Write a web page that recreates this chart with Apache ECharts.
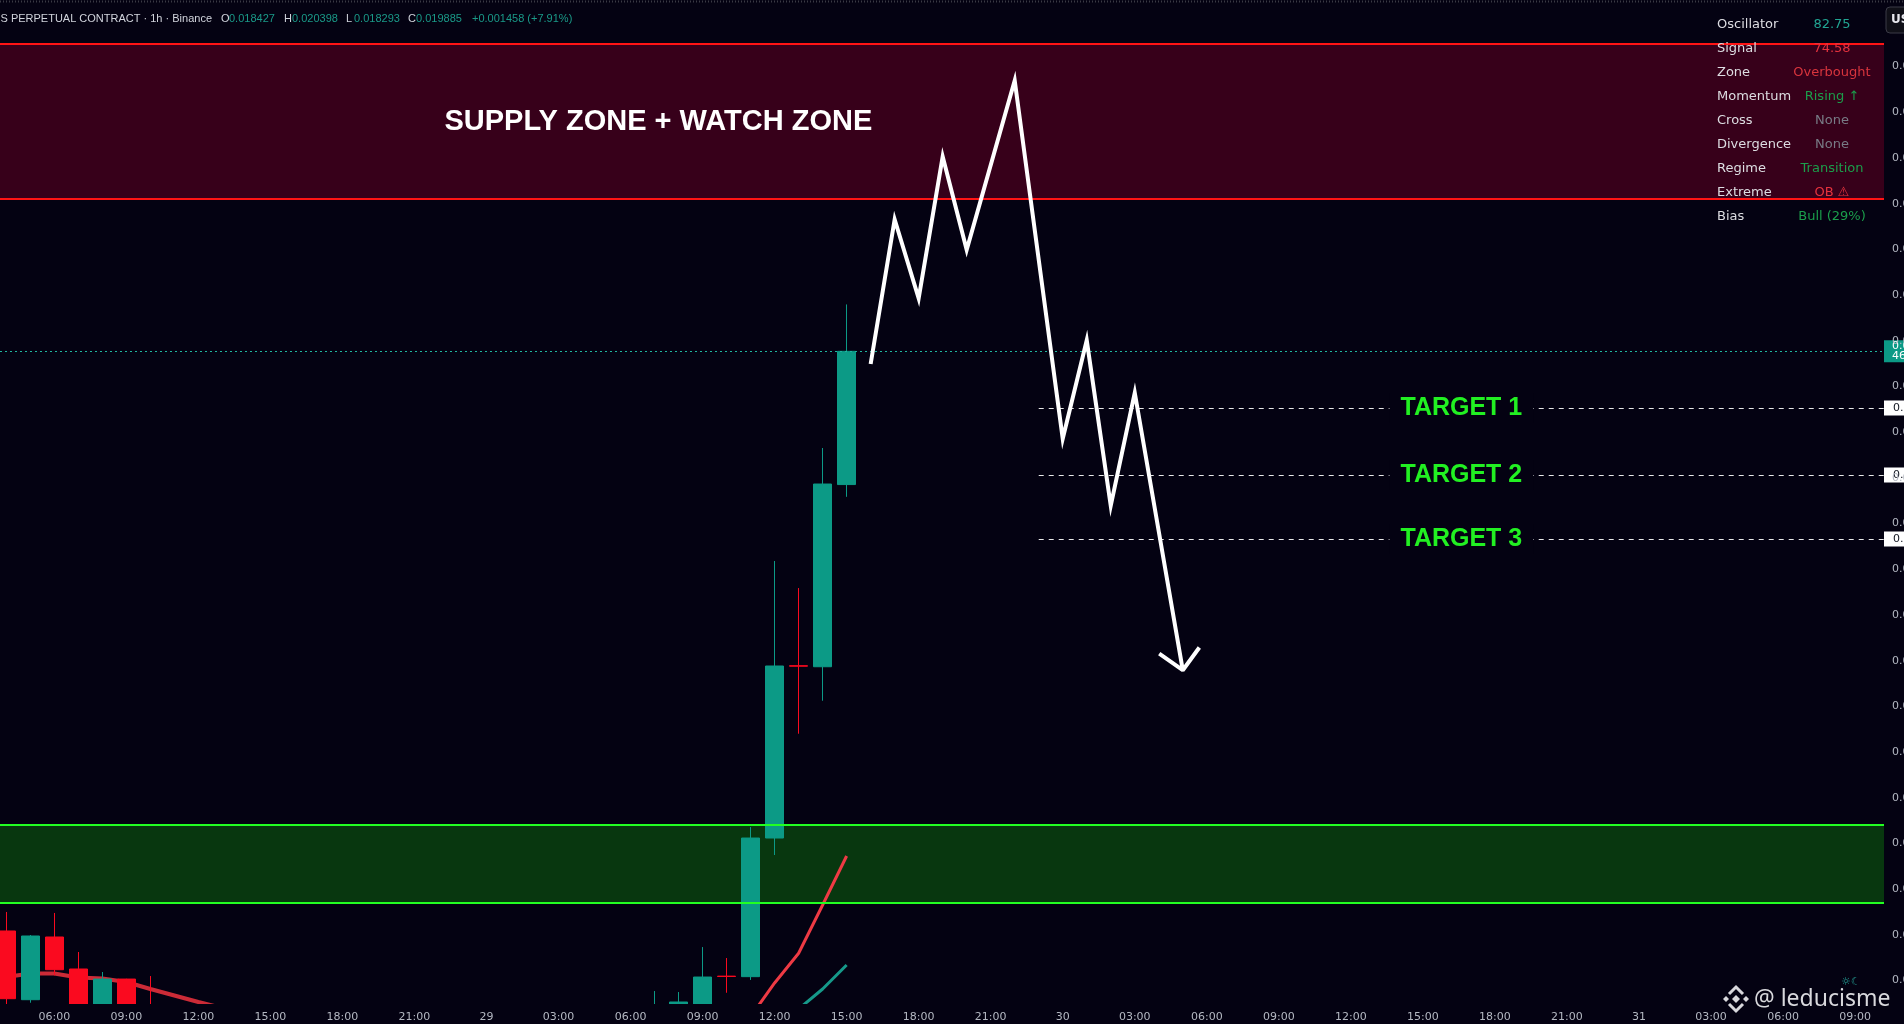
<!DOCTYPE html>
<html><head><meta charset="utf-8">
<script src="https://cdn.jsdelivr.net/npm/echarts@6/dist/echarts.min.js"></script>
<style>html,body{margin:0;padding:0;background:#040212;overflow:hidden}#c{width:1904px;height:1024px}</style>
</head><body><div id="c"></div>
<script>
// ---- data (hours counted from day 28 00:00, 1h candles) ----
const candleHours = [4, 5, 6, 7, 8, 9, 10, 31, 32, 33, 34, 35, 36, 37, 38, 39];
const candleOpen  = [0.013543, 0.012791, 0.013477, 0.013127, 0.012700, 0.013017, 0.012700, 0.012620, 0.012720, 0.012720, 0.013049, 0.013043, 0.014560, 0.016445, 0.016434, 0.018427];
const candleClose = [0.012802, 0.013488, 0.013119, 0.012680, 0.013017, 0.012650, 0.012600, 0.012700, 0.012766, 0.013039, 0.013045, 0.014560, 0.016442, 0.016440, 0.018433, 0.019885];
const candleLow   = [0.012650, 0.012758, 0.013058, 0.012620, 0.012600, 0.012600, 0.012400, 0.012500, 0.012650, 0.012700, 0.012867, 0.013007, 0.014374, 0.015701, 0.016062, 0.018293];
const candleHigh  = [0.013751, 0.013499, 0.013740, 0.013313, 0.013094, 0.013020, 0.013050, 0.012886, 0.012875, 0.013367, 0.013247, 0.014680, 0.017591, 0.017295, 0.018827, 0.020398];

const maRedLeftHours  = [4, 5, 6, 7, 8, 9, 10, 11, 12, 13];
const maRedLeft       = [0.013039, 0.013078, 0.013078, 0.013034, 0.013023, 0.012985, 0.012908, 0.012837, 0.012766, 0.012700];
const maRedRightHours = [35, 36, 37, 38, 39];
const maRedRight      = [0.012606, 0.012974, 0.013299, 0.013827, 0.014363];
const maTealHours     = [37, 38, 39];
const maTeal          = [0.012689, 0.012908, 0.013171];

const projHours  = [40, 41, 42, 43, 44, 46, 48, 49, 50, 51, 53];
const projPrices = [0.019746, 0.021328, 0.020466, 0.022016, 0.020996, 0.022848, 0.018929, 0.020005, 0.018196, 0.019432, 0.016396];
const arrowHours  = [52.02, 53, 53.69];
const arrowPrices = [0.016577, 0.016396, 0.016645];

const targetNames  = ['TARGET 1', 'TARGET 2', 'TARGET 3'];
const targetPrices = [0.019265, 0.018532, 0.017831];
const targetStartHour = 47;

const supplyZone = [0.021551, 0.023247];
const demandZone = [0.013852, 0.014702];
const supplyLabel = { hour: 31.16, price: 0.022397, text: 'SUPPLY ZONE + WATCH ZONE' };
const currentPrice = 0.019885;
const countdown = '46:12';

const yTickValues = [0.0130, 0.0135, 0.0140, 0.0145, 0.0150, 0.0155, 0.0160, 0.0165, 0.0170, 0.0175, 0.0180, 0.0185, 0.0190, 0.0195, 0.0200, 0.0205, 0.0210, 0.0215, 0.0220, 0.0225, 0.0230];
const xTickHours  = [6, 9, 12, 15, 18, 21, 24, 27, 30, 33, 36, 39, 42, 45, 48, 51, 54, 57, 60, 63, 66, 69, 72, 75, 78, 81];
const xTickLabels = ['06:00', '09:00', '12:00', '15:00', '18:00', '21:00', '29', '03:00', '06:00', '09:00', '12:00', '15:00', '18:00', '21:00', '30', '03:00', '06:00', '09:00', '12:00', '15:00', '18:00', '21:00', '31', '03:00', '06:00', '09:00'];

const tableLabels = ['Oscillator', 'Signal', 'Zone', 'Momentum', 'Cross', 'Divergence', 'Regime', 'Extreme', 'Bias'];
const tableValues = ['82.75', '74.58', 'Overbought', 'Rising \u2191', 'None', 'None', 'Transition', 'OB \u26A0', 'Bull (29%)'];
const tableColors = ['#22a593', '#e5323e', '#d8343d', '#1b9e4b', '#787b86', '#787b86', '#1b9e4b', '#e5323e', '#1b9e4b'];

const xMin = 3.7385, xMax = 82.205;
const yMin = 0.012744, yMax = 0.023674;

// ---- styling ----
const BG = '#040212';
const UP = '#0c9a86', DOWN = '#fa0a1f';
const GREEN_TXT = '#22f022';
const AXIS_TXT = '#b4b8c2';

const chart = echarts.init(document.getElementById('c'), null, { renderer: 'canvas' });

const candleData = candleHours.map((h, i) => [h, candleOpen[i], candleClose[i], candleLow[i], candleHigh[i]]);
const pairs = (xs, ys) => xs.map((x, i) => [x, ys[i]]);
const last = candleData.length - 1;
// an invisible anchor so marker series have data
const anchor = [[xMin, currentPrice], [xMax, currentPrice]];

const graphics = [];
// bottom strip under the time axis (hides candle overflow)
graphics.push({ type: 'rect', z: 120, shape: { x: 0, y: 1004, width: 1904, height: 20 }, style: { fill: BG } });
// top dotted border
graphics.push({ type: 'line', z: 100, shape: { x1: 0, y1: 1.5, x2: 1904, y2: 1.5 }, style: { stroke: '#3a3a44', lineWidth: 2, lineDash: [1, 2] } });
// header
const hdrFont = '11px "Liberation Sans", Arial, sans-serif';
graphics.push({ type: 'text', z: 100, x: 212, y: 19, style: { text: 'US PERPETUAL CONTRACT \u00B7 1h \u00B7 Binance', fill: '#d1d4dc', font: hdrFont, align: 'right', verticalAlign: 'middle' } });
const ohlcLabels = ['O', 'H', 'L', 'C'];
const ohlcVals = [candleOpen[last], candleHigh[last], candleLow[last], candleClose[last]];
const ohlcX = [221, 284, 346, 408];
ohlcLabels.forEach((l, i) => {
  graphics.push({ type: 'text', z: 100, x: ohlcX[i], y: 19, style: { text: l, fill: '#d1d4dc', font: hdrFont, verticalAlign: 'middle' } });
  graphics.push({ type: 'text', z: 100, x: ohlcX[i] + 8, y: 19, style: { text: ohlcVals[i].toFixed(6), fill: '#1a9a88', font: hdrFont, verticalAlign: 'middle' } });
});
const chg = candleClose[last] - candleOpen[last];
graphics.push({ type: 'text', z: 100, x: 472, y: 19, style: { text: '+' + chg.toFixed(6) + ' (+' + (chg / candleOpen[last] * 100).toFixed(2) + '%)', fill: '#1a9a88', font: hdrFont, verticalAlign: 'middle' } });
// info table
tableLabels.forEach((l, i) => {
  const y = 25 + i * 24;
  graphics.push({ type: 'text', z: 100, x: 1717, y: y, style: { text: l, fill: '#dddde2', font: '13px "DejaVu Sans", sans-serif', verticalAlign: 'middle' } });
  graphics.push({ type: 'text', z: 100, x: 1832, y: y, style: { text: tableValues[i], fill: tableColors[i], font: '13px "DejaVu Sans", sans-serif', align: 'center', verticalAlign: 'middle' } });
});
// currency button
graphics.push({ type: 'rect', z: 100, shape: { x: 1886, y: 7, width: 40, height: 26, r: 4 }, style: { fill: '#101018', stroke: '#3a3a46', lineWidth: 1 } });
graphics.push({ type: 'text', z: 101, x: 1891, y: 20, style: { text: 'USDT', fill: '#e8e8ee', font: 'bold 12px "DejaVu Sans", sans-serif', verticalAlign: 'middle' } });
// watermark
const cx = 1736, cy = 999, wm = '#d8d8dc';
const dia = (x, y, r) => ({ type: 'polygon', z: 130, shape: { points: [[x, y - r], [x + r, y], [x, y + r], [x - r, y]] }, style: { fill: wm } });
graphics.push(dia(cx, cy, 4), dia(cx - 10, cy, 3), dia(cx + 10, cy, 3));
graphics.push({ type: 'polyline', z: 130, shape: { points: [[cx - 7, cy - 5], [cx, cy - 12], [cx + 7, cy - 5]] }, style: { stroke: wm, lineWidth: 3, fill: null } });
graphics.push({ type: 'polyline', z: 130, shape: { points: [[cx - 7, cy + 5], [cx, cy + 12], [cx + 7, cy + 5]] }, style: { stroke: wm, lineWidth: 3, fill: null } });
graphics.push({ type: 'text', z: 130, x: 1754, y: 999, style: { text: '@ leducisme', fill: wm, font: '23px "Noto Sans", sans-serif', verticalAlign: 'middle' } });
graphics.push({ type: 'text', z: 130, x: 1841, y: 982, style: { text: '\u263C\u263E', fill: '#26a69a', font: '11px "DejaVu Sans", sans-serif', verticalAlign: 'middle' } });

const hidden = { showSymbol: false, symbol: 'none', lineStyle: { opacity: 0, width: 0 }, silent: true };

const option = {
  backgroundColor: BG,
  animation: false,
  grid: { left: 0, right: 20, top: 5, bottom: 20, outerBoundsMode: 'none', containLabel: false },
  xAxis: {
    type: 'value', min: xMin, max: xMax, z: 150,
    axisLine: { show: false }, axisTick: { show: false }, splitLine: { show: false },
    axisLabel: {
      customValues: xTickHours, margin: 8, color: AXIS_TXT, fontSize: 11, fontFamily: 'DejaVu Sans',
      formatter: v => xTickLabels[xTickHours.indexOf(Math.round(v))]
    }
  },
  yAxis: {
    type: 'value', position: 'right', min: yMin, max: yMax, scale: true, z: 150,
    axisLine: { show: false }, axisTick: { show: false }, splitLine: { show: false },
    axisLabel: { customValues: yTickValues, margin: 8, color: AXIS_TXT, fontSize: 11, fontFamily: 'DejaVu Sans', formatter: v => v.toFixed(6) }
  },
  graphic: { elements: graphics },
  series: [
    Object.assign({
      name: 'zones', type: 'line', z: 1, data: anchor,
      markArea: {
        silent: true,
        data: [
          [{ coord: [xMin, supplyZone[1]], itemStyle: { color: '#37001a' } }, { coord: [xMax, supplyZone[0]] }],
          [{ coord: [xMin, demandZone[1]], itemStyle: { color: '#08370f' } }, { coord: [xMax, demandZone[0]] }]
        ]
      },
      markLine: {
        silent: true, symbol: 'none', label: { show: false },
        data: [
          [{ coord: [xMin, supplyZone[0]], lineStyle: { color: '#ff1414', width: 2, type: 'solid' } }, { coord: [xMax, supplyZone[0]] }],
          [{ coord: [xMin, supplyZone[1]], lineStyle: { color: '#ff1414', width: 2, type: 'solid' } }, { coord: [xMax, supplyZone[1]] }],
          [{ coord: [xMin, demandZone[0]], lineStyle: { color: '#22ff22', width: 2, type: 'solid' } }, { coord: [xMax, demandZone[0]] }],
          [{ coord: [xMin, demandZone[1]], lineStyle: { color: '#22ff22', width: 2, type: 'solid' } }, { coord: [xMax, demandZone[1]] }]
        ]
      }
    }, hidden),
    { name: 'maRedL', type: 'line', z: 2, data: pairs(maRedLeftHours, maRedLeft), showSymbol: false, lineStyle: { color: 'rgba(240,50,62,0.85)', width: 4 } },
    { name: 'maRedR', type: 'line', z: 2, data: pairs(maRedRightHours, maRedRight), showSymbol: false, lineStyle: { color: '#ee3a44', width: 3 } },
    { name: 'maTeal', type: 'line', z: 2, data: pairs(maTealHours, maTeal), showSymbol: false, lineStyle: { color: '#16998a', width: 3 } },
    {
      name: 'price', type: 'candlestick', z: 3, data: candleData, barWidth: 19,
      encode: { x: 0, y: [1, 2, 3, 4] },
      itemStyle: { color: UP, color0: DOWN, borderColor: UP, borderColor0: DOWN, borderWidth: 1 }
    },
    Object.assign({
      name: 'annotations', type: 'line', z: 4, data: anchor,
      markLine: {
        silent: true, symbol: 'none',
        data: [
          [
            { coord: [xMin, currentPrice], lineStyle: { color: '#1fb5a0', width: 1, type: [2, 3] },
              label: { show: true, position: 'end', distance: 0, formatter: currentPrice.toFixed(6) + '\n' + countdown, color: '#ffffff', backgroundColor: '#0c9a86', fontSize: 11, lineHeight: 10, fontFamily: 'DejaVu Sans', padding: [1, 6, 1, 8] } },
            { coord: [xMax, currentPrice] }
          ]
        ].concat(targetPrices.map(p => ([
          { coord: [targetStartHour, p], lineStyle: { color: '#e8e8e8', width: 1, type: [5, 5] },
            label: { show: true, position: 'end', distance: 0, formatter: p.toFixed(6), color: '#131722', backgroundColor: '#ffffff', fontSize: 11, lineHeight: 13, fontFamily: 'DejaVu Sans', padding: [1, 6, 1, 9] } },
          { coord: [xMax, p] }
        ])))
      },
      markPoint: {
        silent: true, symbol: 'rect', symbolSize: 1, itemStyle: { color: 'rgba(0,0,0,0)' },
        data: [
          {
            coord: [supplyLabel.hour, supplyLabel.price],
            label: { show: true, position: 'inside', formatter: supplyLabel.text, color: '#ffffff', fontSize: 29, fontWeight: 'bold', fontFamily: '"Liberation Sans", Arial, sans-serif' }
          }
        ].concat(targetPrices.map((p, i) => ({
          coord: [(targetStartHour + xMax) / 2, p],
          label: { show: true, position: 'inside', formatter: targetNames[i], color: GREEN_TXT, fontSize: 25, fontWeight: 'bold', fontFamily: '"Liberation Sans", Arial, sans-serif', backgroundColor: BG, padding: [2, 11] }
        })))
      }
    }, hidden),
    { name: 'projection', type: 'line', z: 5, data: pairs(projHours, projPrices), showSymbol: false, lineStyle: { color: '#ffffff', width: 4, join: 'miter' } },
    { name: 'arrow', type: 'line', z: 5, data: pairs(arrowHours, arrowPrices), showSymbol: false, lineStyle: { color: '#ffffff', width: 4 } }
  ]
};
chart.setOption(option);
</script>
</body></html>
